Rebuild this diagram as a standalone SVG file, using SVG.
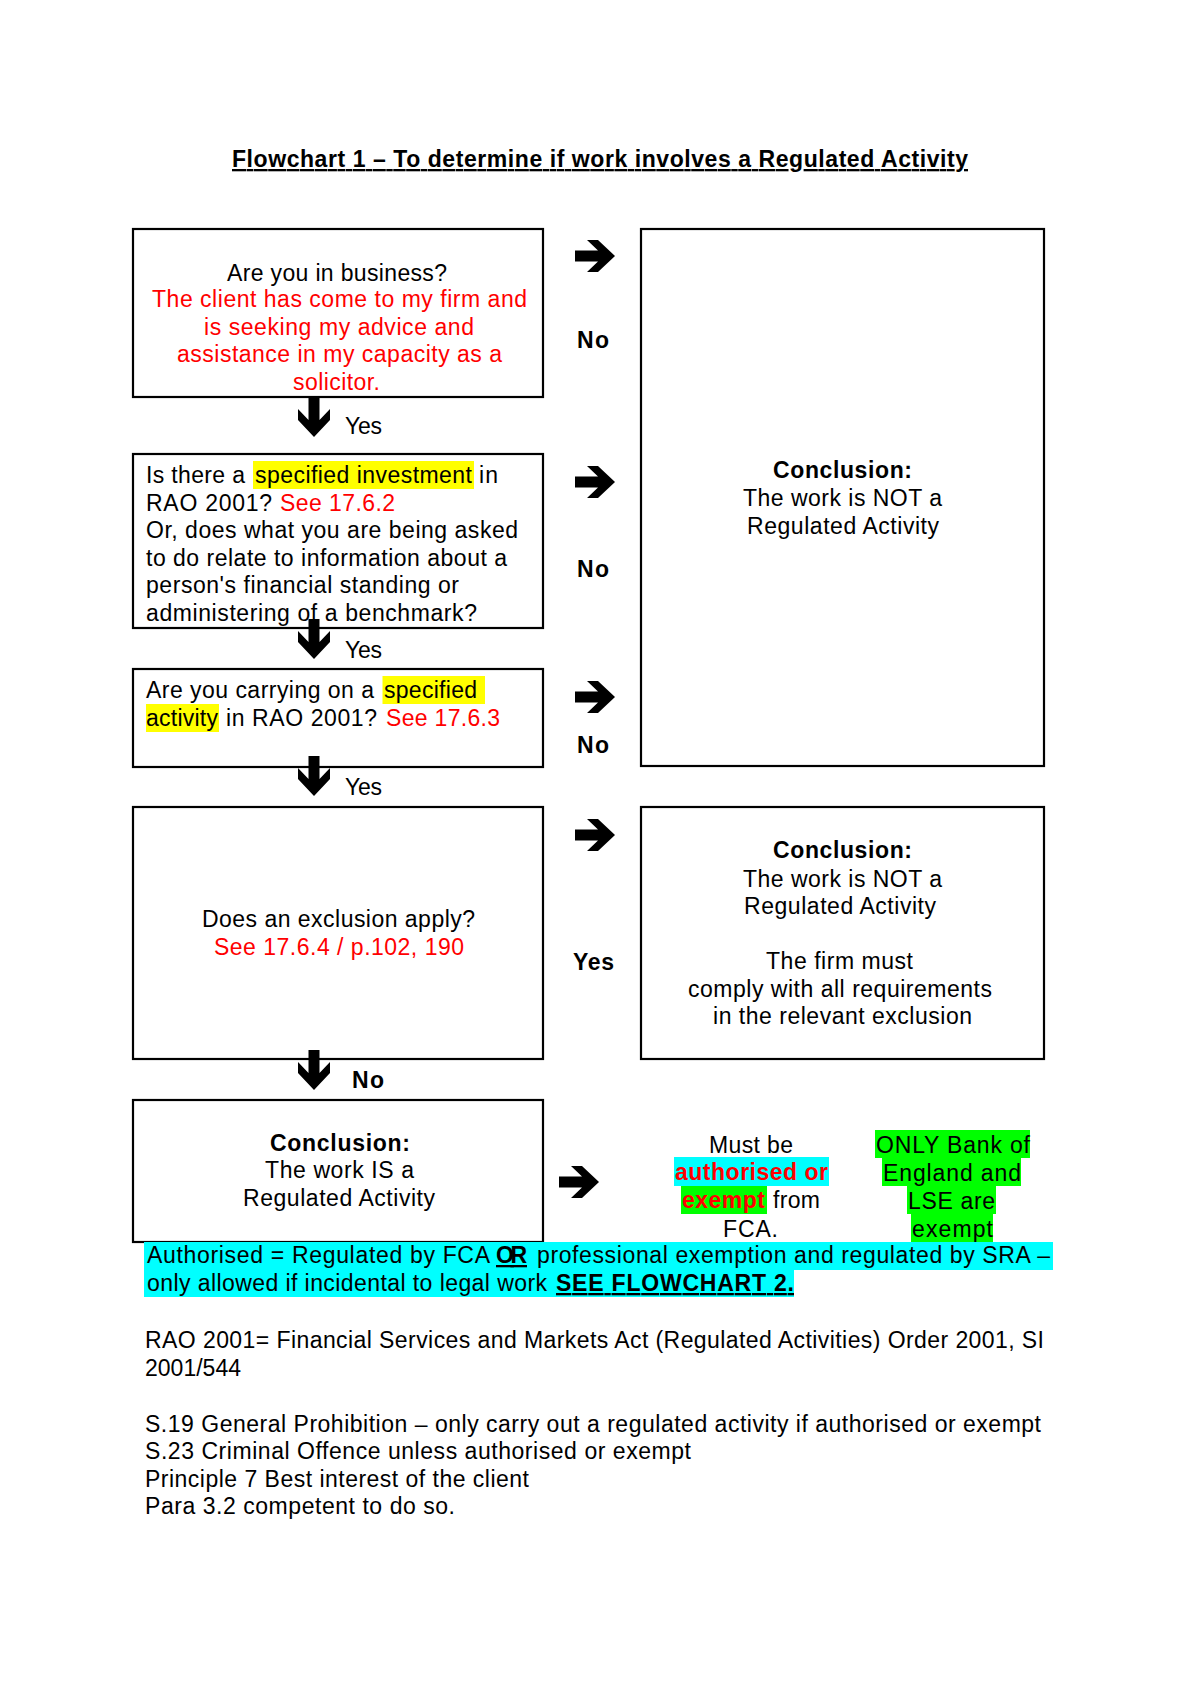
<svg xmlns="http://www.w3.org/2000/svg" width="1200" height="1698" viewBox="0 0 1200 1698">
<style>
text{font-family:"Liberation Sans",Arial,sans-serif;font-size:23px;fill:#000}
.b{font-weight:bold}
.r{fill:#ff0000}
.u{text-decoration:underline}
.box{fill:none;stroke:#000;stroke-width:2.2}
.arr{fill:#000}
.hy{fill:#ffff00}
.hc{fill:#00ffff}
.hg{fill:#00ff00}
</style>
<defs>
<path id="arw" d="M-20,-5.5 H3 L-8,-16 H3 L20,0 L3,16 H-8 L3,5.5 H-20 Z"/>
</defs>
<rect width="1200" height="1698" fill="#fff"/>
<g id="title">
<text class="b u" x="232" y="167" textLength="736">Flowchart 1 – To determine if work involves a Regulated Activity</text>
</g>
<g id="q1">
<rect class="box" x="133" y="229" width="410" height="168"/>
<text x="227" y="281" textLength="220">Are you in business?</text>
<text class="r" x="152" y="307" textLength="375">The client has come to my firm and</text>
<text class="r" x="204" y="335" textLength="270">is seeking my advice and</text>
<text class="r" x="177" y="362" textLength="325">assistance in my capacity as a</text>
<text class="r" x="293" y="390" textLength="87">solicitor.</text>
</g>
<g id="q2">
<rect class="box" x="133" y="454" width="410" height="174"/>
<rect class="hy" x="253" y="461" width="221" height="28"/>
<text x="146" y="483" textLength="99">Is there a</text>
<text x="255" y="483" textLength="217">specified investment</text>
<text x="479" y="483" textLength="19">in</text>
<text x="146" y="510.6" textLength="126">RAO 2001?</text>
<text class="r" x="280" y="510.6" textLength="115">See 17.6.2</text>
<text x="146" y="538.2" textLength="372">Or, does what you are being asked</text>
<text x="146" y="565.8" textLength="361">to do relate to information about a</text>
<text x="146" y="593.4" textLength="313">person's financial standing or</text>
<text x="146" y="621" textLength="331">administering of a benchmark?</text>
</g>
<g id="q3">
<rect class="box" x="133" y="669" width="410" height="98"/>
<rect class="hy" x="382.5" y="676" width="102.5" height="28"/>
<rect class="hy" x="146" y="704" width="73" height="28"/>
<text x="146" y="698" textLength="228">Are you carrying on a</text>
<text x="384" y="698" textLength="93">specified</text>
<text x="146" y="726" textLength="72">activity</text>
<text x="226" y="726" textLength="151">in RAO 2001?</text>
<text class="r" x="386" y="726" textLength="114">See 17.6.3</text>
</g>
<g id="q4">
<rect class="box" x="133" y="807" width="410" height="252"/>
<text x="202" y="927" textLength="273">Does an exclusion apply?</text>
<text class="r" x="214" y="955" textLength="250">See 17.6.4 / p.102, 190</text>
</g>
<g id="c_not">
<rect class="box" x="641" y="229" width="403" height="537"/>
<text class="b" x="773" y="478" textLength="139">Conclusion:</text>
<text x="743" y="506" textLength="199">The work is NOT a</text>
<text x="747" y="534" textLength="192">Regulated Activity</text>
</g>
<g id="c_excl">
<rect class="box" x="641" y="807" width="403" height="252"/>
<text class="b" x="773" y="858" textLength="139">Conclusion:</text>
<text x="743" y="887" textLength="199">The work is NOT a</text>
<text x="744" y="914" textLength="192">Regulated Activity</text>
<text x="766" y="969" textLength="147">The firm must</text>
<text x="688" y="997" textLength="304">comply with all requirements</text>
<text x="713" y="1024" textLength="259">in the relevant exclusion</text>
</g>
<g id="c_is">
<rect class="box" x="133" y="1100" width="410" height="142"/>
<text class="b" x="270" y="1151" textLength="140">Conclusion:</text>
<text x="265" y="1178" textLength="149">The work IS a</text>
<text x="243" y="1206" textLength="192">Regulated Activity</text>
</g>
<g id="must">
<rect class="hc" x="674" y="1157" width="155" height="29"/>
<rect class="hg" x="681" y="1186" width="86" height="28"/>
<text x="709" y="1153" textLength="84">Must be</text>
<text class="b r" x="675" y="1180" textLength="153">authorised or</text>
<text class="b r" x="682" y="1208" textLength="83">exempt</text>
<text x="773" y="1208" textLength="47">from</text>
<text x="723" y="1237" textLength="55">FCA.</text>
</g>
<g id="exempt">
<rect class="hg" x="875" y="1130" width="155" height="28"/>
<rect class="hg" x="882" y="1158" width="139" height="28"/>
<rect class="hg" x="907" y="1186" width="89" height="28"/>
<rect class="hg" x="911" y="1214" width="82" height="28"/>
<text x="876" y="1153" textLength="154">ONLY Bank of</text>
<text x="883" y="1181" textLength="138">England and</text>
<text x="908" y="1209" textLength="87">LSE are</text>
<text x="912" y="1237" textLength="81">exempt</text>
</g>
<g id="authorised">
<rect class="hc" x="144" y="1242" width="909" height="28"/>
<rect class="hc" x="144" y="1270" width="650" height="27"/>
<text x="147" y="1263" textLength="343">Authorised = Regulated by FCA</text>
<text class="b u" x="496" y="1263" textLength="31">OR</text>
<text x="537" y="1263" textLength="513">professional exemption and regulated by SRA –</text>
<text x="147" y="1291" textLength="400">only allowed if incidental to legal work</text>
<text class="b u" x="556" y="1291" textLength="238">SEE FLOWCHART 2.</text>
</g>
<g id="notes">
<text x="145" y="1348" textLength="899">RAO 2001= Financial Services and Markets Act (Regulated Activities) Order 2001, SI</text>
<text x="145" y="1376" textLength="96">2001/544</text>
<text x="145" y="1432" textLength="896">S.19 General Prohibition – only carry out a regulated activity if authorised or exempt</text>
<text x="145" y="1459" textLength="546">S.23 Criminal Offence unless authorised or exempt</text>
<text x="145" y="1487" textLength="384">Principle 7 Best interest of the client</text>
<text x="145" y="1514" textLength="310">Para 3.2 competent to do so.</text>
</g>
<g id="connectors" class="arr">
<use href="#arw" transform="translate(595,256)"/>
<use href="#arw" transform="translate(595,482)"/>
<use href="#arw" transform="translate(595,697)"/>
<use href="#arw" transform="translate(595,835)"/>
<use href="#arw" transform="translate(579,1182)"/>
<use href="#arw" transform="translate(314,417) rotate(90)"/>
<use href="#arw" transform="translate(314,639) rotate(90)"/>
<use href="#arw" transform="translate(314,776) rotate(90)"/>
<use href="#arw" transform="translate(314,1070) rotate(90)"/>
<text class="b" x="577" y="348" textLength="32">No</text>
<text class="b" x="577" y="577" textLength="32">No</text>
<text class="b" x="577" y="753" textLength="32">No</text>
<text class="b" x="573" y="970" textLength="41">Yes</text>
<text x="345" y="434" textLength="37">Yes</text>
<text x="345" y="658" textLength="37">Yes</text>
<text x="345" y="795" textLength="37">Yes</text>
<text class="b" x="352" y="1088" textLength="32">No</text>
</g>
</svg>
